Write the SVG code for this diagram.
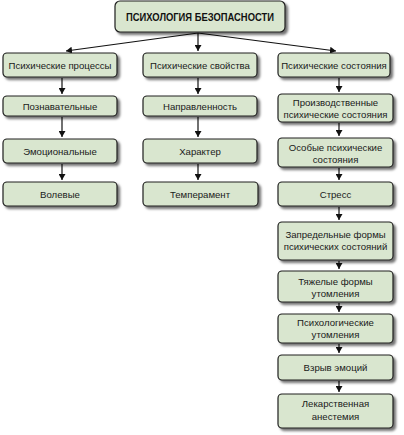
<svg xmlns="http://www.w3.org/2000/svg" width="404" height="435" viewBox="0 0 404 435">
<style>
.box{fill:#d9e6cf;stroke:#1e1e1e;stroke-width:1.2;filter:url(#sh)}
.t{font-family:"Liberation Sans",Arial,sans-serif;font-size:9.6px;fill:#1a1a1a;text-anchor:middle}
.title{font-family:"Liberation Sans",Arial,sans-serif;font-size:11px;font-weight:bold;fill:#111;text-anchor:middle}
.c{stroke:#111;stroke-width:1.2;fill:none;marker-end:url(#ah)}
</style>
<defs>
<filter id="sh" x="-10%" y="-20%" width="130%" height="150%">
<feDropShadow dx="2.5" dy="2.5" stdDeviation="1.3" flood-color="#000" flood-opacity="0.55"/>
</filter>
<marker id="ah" markerWidth="6" markerHeight="7" refX="6" refY="3.5" orient="auto" markerUnits="userSpaceOnUse">
<path d="M0,0 L6,3.5 L0,7 Z" fill="#111"/>
</marker>
</defs>
<rect width="404" height="435" fill="#fff"/>
<g id="connectors">
<line class="c" x1="198" y1="33" x2="66" y2="51"/>
<line class="c" x1="198" y1="33" x2="198" y2="51"/>
<line class="c" x1="198" y1="33" x2="336" y2="51"/>
<line class="c" x1="62" y1="78" x2="62" y2="94"/>
<line class="c" x1="62" y1="117" x2="62" y2="137"/>
<line class="c" x1="62" y1="164" x2="62" y2="180"/>
<line class="c" x1="198" y1="78" x2="198" y2="94"/>
<line class="c" x1="198" y1="117" x2="198" y2="137"/>
<line class="c" x1="198" y1="164" x2="198" y2="180"/>
<line class="c" x1="339" y1="78" x2="339" y2="92"/>
<line class="c" x1="339" y1="123" x2="339" y2="136"/>
<line class="c" x1="339" y1="168" x2="339" y2="180"/>
<line class="c" x1="339" y1="207" x2="339" y2="220"/>
<line class="c" x1="339" y1="261" x2="339" y2="269"/>
<line class="c" x1="339" y1="303" x2="339" y2="312"/>
<line class="c" x1="339" y1="344" x2="339" y2="353"/>
<line class="c" x1="339" y1="381" x2="339" y2="392"/>
</g>
<g id="title"><rect class="box" x="115" y="1" width="170" height="31" rx="5"/><text class="title" x="200" y="21" textLength="148" lengthAdjust="spacingAndGlyphs">ПСИХОЛОГИЯ БЕЗОПАСНОСТИ</text></g>
<g id="n-processes"><rect class="box" x="3" y="53" width="114" height="24" rx="4"/><text class="t" x="60" y="68.5">Психические процессы</text></g>
<g id="n-cognitive"><rect class="box" x="3" y="96" width="114" height="20" rx="4"/><text class="t" x="60" y="109.5">Познавательные</text></g>
<g id="n-emotional"><rect class="box" x="3" y="139" width="114" height="24" rx="4"/><text class="t" x="60" y="154.5">Эмоциональные</text></g>
<g id="n-volitional"><rect class="box" x="3" y="182" width="114" height="24" rx="4"/><text class="t" x="60" y="197.5">Волевые</text></g>
<g id="n-properties"><rect class="box" x="143" y="53" width="114" height="24" rx="4"/><text class="t" x="200" y="68.5">Психические свойства</text></g>
<g id="n-orientation"><rect class="box" x="143" y="96" width="114" height="20" rx="4"/><text class="t" x="200" y="109.5">Направленность</text></g>
<g id="n-character"><rect class="box" x="143" y="139" width="114" height="24" rx="4"/><text class="t" x="200" y="154.5">Характер</text></g>
<g id="n-temperament"><rect class="box" x="143" y="182" width="115" height="24" rx="4"/><text class="t" x="200" y="197.5">Темперамент</text></g>
<g id="n-states"><rect class="box" x="278" y="53" width="112" height="24" rx="4"/><text class="t" x="334" y="68.5">Психические состояния</text></g>
<g id="n-production"><rect class="box" x="278" y="94" width="115" height="28" rx="4"/><text class="t" x="335.5" y="106">Производственные</text><text class="t" x="335.5" y="118">психические состояния</text></g>
<g id="n-special"><rect class="box" x="278" y="138" width="115" height="29" rx="4"/><text class="t" x="335.5" y="151">Особые психические</text><text class="t" x="335.5" y="163">состояния</text></g>
<g id="n-stress"><rect class="box" x="278" y="182" width="115" height="24" rx="4"/><text class="t" x="335.5" y="197.5">Стресс</text></g>
<g id="n-extreme"><rect class="box" x="278" y="222" width="115" height="38" rx="4"/><text class="t" x="335.5" y="238">Запредельные формы</text><text class="t" x="335.5" y="250">психических состояний</text></g>
<g id="n-fatigue"><rect class="box" x="278" y="271" width="115" height="31" rx="4"/><text class="t" x="335.5" y="285">Тяжелые формы</text><text class="t" x="335.5" y="297">утомления</text></g>
<g id="n-psychfatigue"><rect class="box" x="278" y="314" width="115" height="29" rx="4"/><text class="t" x="335.5" y="326">Психологические</text><text class="t" x="335.5" y="338">утомления</text></g>
<g id="n-burst"><rect class="box" x="278" y="355" width="115" height="25" rx="4"/><text class="t" x="335.5" y="370.5">Взрыв эмоций</text></g>
<g id="n-anesthesia"><rect class="box" x="278" y="394" width="115" height="34" rx="4"/><text class="t" x="335.5" y="407">Лекарственная</text><text class="t" x="335.5" y="420">анестемия</text></g>
</svg>
